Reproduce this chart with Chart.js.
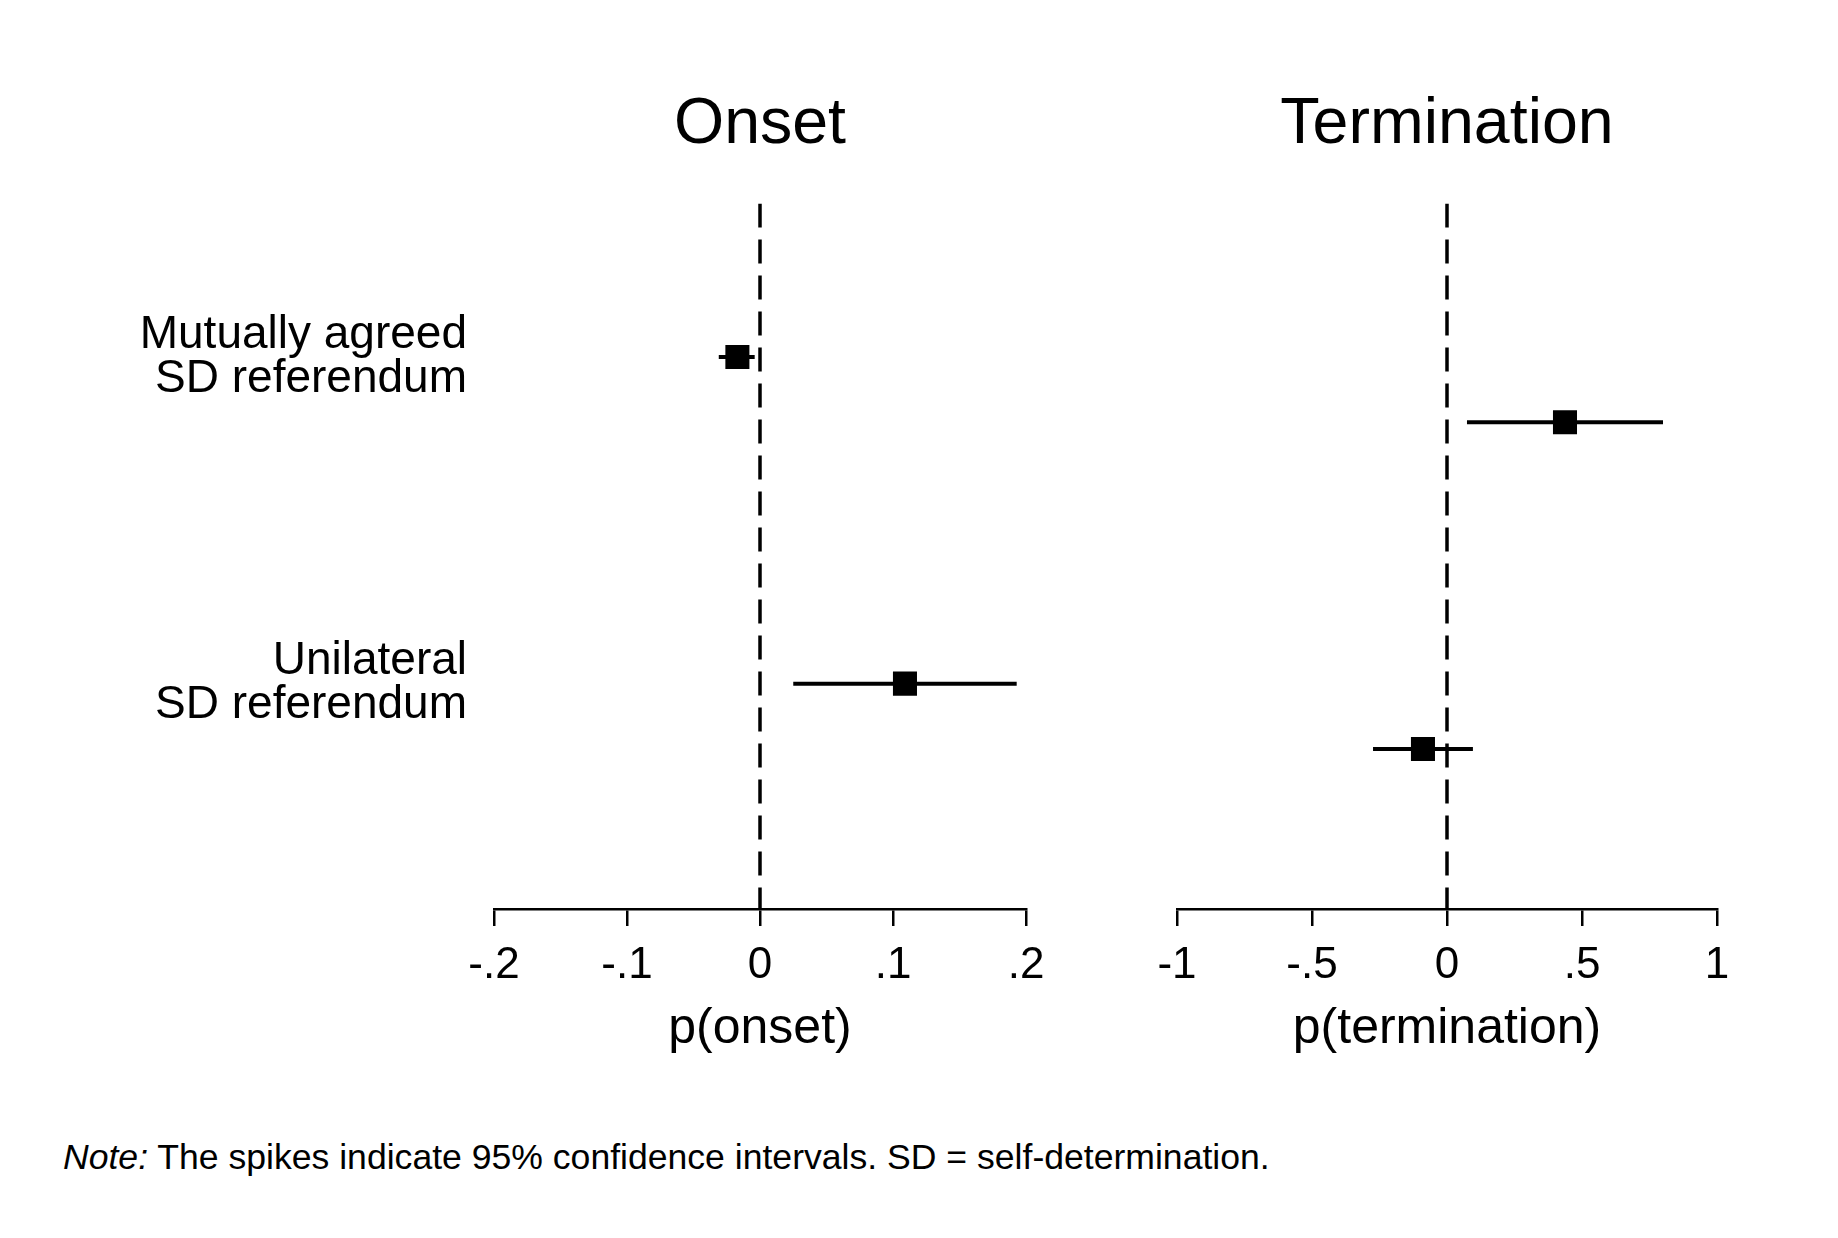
<!DOCTYPE html>
<html>
<head>
<meta charset="utf-8">
<script src="https://cdn.jsdelivr.net/npm/chart.js@4"></script>
<style>
  html, body { margin: 0; padding: 0; background: #fff; }
  body { width: 1838px; height: 1238px; position: relative; overflow: hidden;
         font-family: "Liberation Sans", Arial, sans-serif; color: #000; }
  canvas { position: absolute; top: 0; }
  #onset { left: 0; }
  #termination { left: 1100px; }
  #note { position: absolute; left: 63px; top: 1137px; font-size: 35.6px; line-height: 40px; white-space: nowrap; }
</style>
</head>
<body>
<canvas id="onset" width="1100" height="1100" style="width:1100px;height:1100px"></canvas>
<canvas id="termination" width="738" height="1100" style="width:738px;height:1100px"></canvas>
<div id="note"><i>Note:</i> The spikes indicate 95% confidence intervals. SD = self-determination.</div>
<script>
// coefficient plot: two panels, point estimates with 95% CI spikes

const categories = [['Mutually agreed', 'SD referendum'], ['Unilateral', 'SD referendum']];

const onsetEst = [-0.017, 0.109];
const onsetLo = [-0.031, 0.025];
const onsetHi = [-0.004, 0.193];

const termEst = [0.437, -0.089];
const termLo = [0.074, -0.274];
const termHi = [0.800, 0.096];

const onsetTicks = [-0.2, -0.1, 0, 0.1, 0.2];
const onsetTickLabels = ['-.2', '-.1', '0', '.1', '.2'];
const termTicks = [-1, -0.5, 0, 0.5, 1];
const termTickLabels = ['-1', '-.5', '0', '.5', '1'];

const FONT = '"Liberation Sans", Arial, sans-serif';
const Y_MIN = 0.53, Y_MAX = 2.69;

Chart.defaults.font.family = FONT;
Chart.defaults.color = '#000';

function buildPanel(canvasId, p) {
    const ctx = document.getElementById(canvasId).getContext('2d');

    const datasets = [];
    // markers (drawn on top)
    datasets.push({
        data: p.est.map((v, i) => ({ x: v, y: i + 1 + p.yShift })),
        pointStyle: 'rect',
        pointRadius: 17,
        pointBorderWidth: 0,
        backgroundColor: '#000',
        borderColor: '#000',
        showLine: false,
        order: 0
    });
    // CI spikes
    p.lo.forEach((lo, i) => {
        datasets.push({
            data: [{ x: lo, y: i + 1 + p.yShift }, { x: p.hi[i], y: i + 1 + p.yShift }],
            showLine: true,
            borderColor: '#000',
            borderWidth: 4,
            pointRadius: 0,
            order: 1
        });
    });
    // reference line at zero
    datasets.push({
        data: [{ x: 0, y: Y_MIN }, { x: 0, y: Y_MAX }],
        showLine: true,
        borderColor: '#000',
        borderWidth: 3.5,
        borderDash: [24, 12],
        pointRadius: 0,
        order: 2
    });

    return new Chart(ctx, {
        type: 'scatter',
        data: { datasets },
        options: {
            animation: false,
            responsive: false,
            events: [],
            layout: { padding: p.padding },
            plugins: {
                legend: { display: false },
                tooltip: { enabled: false },
                title: {
                    display: true,
                    text: p.title,
                    fullSize: false,
                    color: '#000',
                    font: { size: 64.5, weight: 'normal', lineHeight: 1 },
                    padding: { top: 93, bottom: 46 }
                }
            },
            scales: {
                x: {
                    type: 'linear',
                    min: p.ticks[0],
                    max: p.ticks[p.ticks.length - 1],
                    afterBuildTicks: s => { s.ticks = p.ticks.map(v => ({ value: v })); },
                    afterFit: s => { s.height = 145; },
                    ticks: {
                        autoSkip: false,
                        maxRotation: 0,
                        padding: 18,
                        color: '#000',
                        font: { size: 44, lineHeight: 1 },
                        callback: (v, i) => p.tickLabels[i]
                    },
                    grid: {
                        display: true,
                        drawOnChartArea: false,
                        drawTicks: true,
                        tickLength: 17,
                        color: '#000',
                        lineWidth: 2.5
                    },
                    border: { display: true, color: '#000', width: 2.5 },
                    title: {
                        display: true,
                        text: p.axisTitle,
                        color: '#000',
                        font: { size: 50, lineHeight: 1 },
                        padding: 0
                    }
                },
                y: {
                    type: 'linear',
                    reverse: true,
                    min: Y_MIN,
                    max: Y_MAX,
                    display: p.showCats,
                    afterBuildTicks: s => { s.ticks = categories.map((c, i) => ({ value: i + 1 })); },
                    afterFit: s => { if (p.showCats) s.width = p.yWidth; },
                    ticks: {
                        autoSkip: false,
                        padding: 27,
                        color: '#000',
                        font: { size: 46, lineHeight: 0.95 },
                        callback: (v, i) => categories[i]
                    },
                    grid: { display: false, drawTicks: false },
                    border: { display: false }
                }
            }
        }
    });
}

buildPanel('onset', {
    title: 'Onset',
    axisTitle: 'p(onset)',
    est: onsetEst, lo: onsetLo, hi: onsetHi,
    ticks: onsetTicks, tickLabels: onsetTickLabels,
    yShift: 0,
    showCats: true,
    yWidth: 494,
    padding: { left: 0, right: 74, top: 0, bottom: 46 }
});

buildPanel('termination', {
    title: 'Termination',
    axisTitle: 'p(termination)',
    est: termEst, lo: termLo, hi: termHi,
    ticks: termTicks, tickLabels: termTickLabels,
    yShift: 0.2,
    showCats: false,
    yWidth: 0,
    padding: { left: 77, right: 121, top: 0, bottom: 46 }
});
</script>
</body>
</html>
